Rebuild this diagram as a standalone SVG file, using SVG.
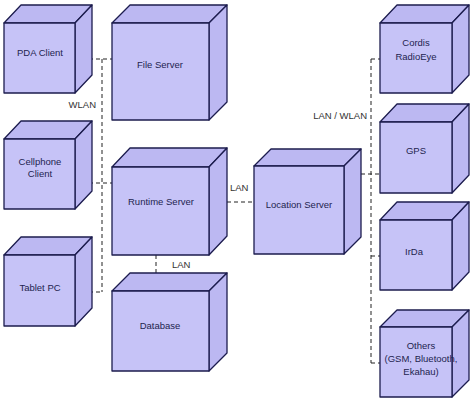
<svg xmlns="http://www.w3.org/2000/svg" width="474" height="400" viewBox="0 0 474 400">
<style>
.f{fill:#c6c3f7;stroke:#1c1c4e;stroke-width:1.3;stroke-linejoin:round}
.s{fill:#bcb8f2;stroke:#1c1c4e;stroke-width:1.3;stroke-linejoin:round}
.t{font-family:"Liberation Sans",Arial,sans-serif;font-size:9.5px;fill:#23234f;text-anchor:middle}
.l{font-family:"Liberation Sans",Arial,sans-serif;font-size:9.5px;fill:#333}
.c{fill:none;stroke:#222;stroke-width:1;stroke-dasharray:4,3}
</style>
<rect width="474" height="400" fill="#fff"/>
<g id="connectors">
<path class="c" d="M102,59 V292"/>
<path class="c" d="M75,59 H112"/>
<path class="c" d="M75,183 H112"/>
<path class="c" d="M75,292 H102"/>
<path class="c" d="M227,202 H254"/>
<path class="c" d="M156,255 V273"/>
<path class="c" d="M371,59 V363"/>
<path class="c" d="M371,59 H380"/>
<path class="c" d="M361,174 H380"/>
<path class="c" d="M371,256 H380"/>
<path class="c" d="M371,363 H380"/>
<text class="l" x="96" y="108" text-anchor="end">WLAN</text>
<text class="l" x="230" y="191">LAN</text>
<text class="l" x="172" y="268">LAN</text>
<text class="l" x="367" y="119" text-anchor="end">LAN / WLAN</text>
</g>
<g id="pda">
<polygon class="s" points="4,23 21,5 92,5 75,23"/><polygon class="s" points="75,23 92,5 92,75 75,93"/><rect class="f" x="4" y="23" width="71" height="70"/>
<text class="t" x="40" y="56">PDA Client</text>
</g>
<g id="fileserver">
<polygon class="s" points="112,23 130,5 227,5 209,23"/><polygon class="s" points="209,23 227,5 227,102 209,120"/><rect class="f" x="112" y="23" width="97" height="97"/>
<text class="t" x="160" y="68">File Server</text>
</g>
<g id="cellphone">
<polygon class="s" points="4,139 21,121 92,121 75,139"/><polygon class="s" points="75,139 92,121 92,191 75,209"/><rect class="f" x="4" y="139" width="71" height="70"/>
<text class="t" x="40" y="165">Cellphone</text><text class="t" x="40" y="177">Client</text>
</g>
<g id="runtime">
<polygon class="s" points="112,167 130,148 227,148 209,167"/><polygon class="s" points="209,167 227,148 227,236 209,255"/><rect class="f" x="112" y="167" width="97" height="88"/>
<text class="t" x="161" y="205">Runtime Server</text>
</g>
<g id="tablet">
<polygon class="s" points="4,255 21,237 92,237 75,255"/><polygon class="s" points="75,255 92,237 92,308 75,326"/><rect class="f" x="4" y="255" width="71" height="71"/>
<text class="t" x="40" y="291">Tablet PC</text>
</g>
<g id="database">
<polygon class="s" points="112,291 130,273 227,273 209,291"/><polygon class="s" points="209,291 227,273 227,353 209,371"/><rect class="f" x="112" y="291" width="97" height="80"/>
<text class="t" x="160" y="329">Database</text>
</g>
<g id="location">
<polygon class="s" points="254,166 271,149 361,149 344,166"/><polygon class="s" points="344,166 361,149 361,237 344,254"/><rect class="f" x="254" y="166" width="90" height="88"/>
<text class="t" x="299" y="208">Location Server</text>
</g>
<g id="cordis">
<polygon class="s" points="380,23 397,5 469,5 452,23"/><polygon class="s" points="452,23 469,5 469,75 452,93"/><rect class="f" x="380" y="23" width="72" height="70"/>
<text class="t" x="416" y="46">Cordis</text><text class="t" x="416" y="60">RadioEye</text>
</g>
<g id="gps">
<polygon class="s" points="380,122 397,104 469,104 452,122"/><polygon class="s" points="452,122 469,104 469,175 452,193"/><rect class="f" x="380" y="122" width="72" height="71"/>
<text class="t" x="416" y="154">GPS</text>
</g>
<g id="irda">
<polygon class="s" points="380,220 397,202 469,202 452,220"/><polygon class="s" points="452,220 469,202 469,272 452,290"/><rect class="f" x="380" y="220" width="72" height="70"/>
<text class="t" x="414" y="255">IrDa</text>
</g>
<g id="others">
<polygon class="s" points="380,327 397,310 469,310 452,327"/><polygon class="s" points="452,327 469,310 469,380 452,397"/><rect class="f" x="380" y="327" width="72" height="70"/>
<text class="t" x="421" y="349">Others</text><text class="t" x="421" y="362">(GSM, Bluetooth,</text><text class="t" x="421" y="375">Ekahau)</text>
</g>
</svg>
